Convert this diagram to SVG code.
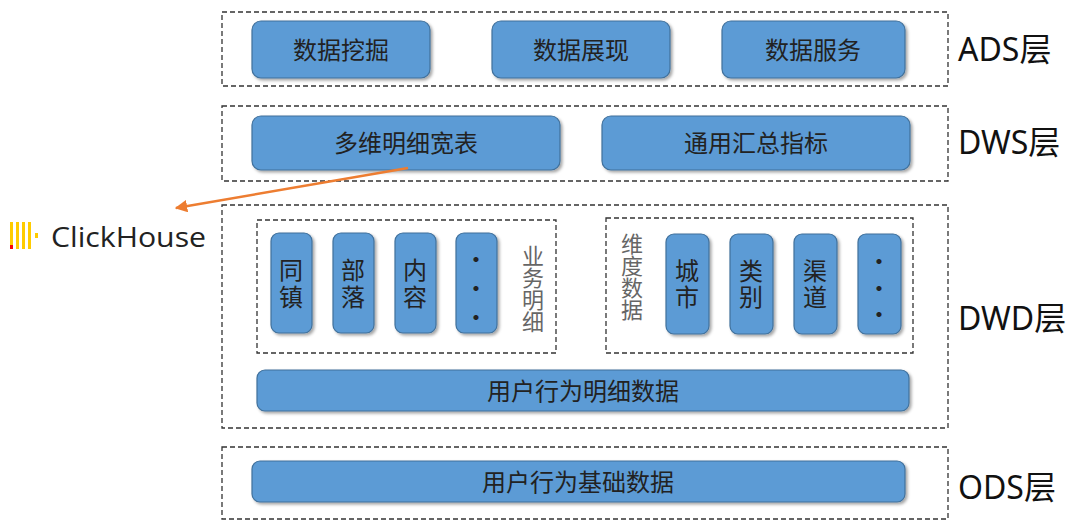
<svg xmlns="http://www.w3.org/2000/svg" width="1080" height="527" viewBox="0 0 1080 527">
<defs>
<filter id="sh" x="-20%" y="-20%" width="140%" height="160%"><feDropShadow dx="2" dy="2" stdDeviation="1.5" flood-color="#000" flood-opacity="0.35"/></filter>
<marker id="ah" viewBox="0 0 10 10" refX="9" refY="5" markerWidth="5" markerHeight="5" orient="auto"><path d="M0,0 L10,5 L0,10 z" fill="#ed7d31"/></marker>
</defs>
<style>
.layer{fill:none;stroke:#333;stroke-width:1.3;stroke-dasharray:5,3}
.b{fill:#5b9bd5;stroke:#41719c;stroke-width:1.2;filter:url(#sh)}
.t{font-family:"Noto Sans CJK SC","Liberation Sans",sans-serif;font-size:24px;fill:#222;text-anchor:middle}
.lab{font-family:"Noto Sans CJK SC","Liberation Sans",sans-serif;font-size:22px;fill:#666;writing-mode:vertical-rl;text-orientation:upright}
.ly{font-family:"Noto Sans","Noto Sans CJK SC",sans-serif;font-size:32px;fill:#111}
</style>
<rect width="1080" height="527" fill="#fff"/>
<g id="layers">
<rect class="layer" x="222" y="12" width="726" height="74"/>
<rect class="layer" x="222" y="106" width="726" height="75"/>
<rect class="layer" x="222" y="205" width="726" height="223"/>
<rect class="layer" x="222" y="447" width="726" height="72"/>
<rect class="layer" x="257" y="220" width="299" height="133"/>
<rect class="layer" x="606" y="218" width="307" height="135"/>
</g>
<g id="ads">
<rect class="b" x="252" y="21" width="178" height="57" rx="9"/><text class="t" x="341" y="59">数据挖掘</text>
<rect class="b" x="492" y="21" width="178" height="57" rx="9"/><text class="t" x="581" y="59">数据展现</text>
<rect class="b" x="722" y="21" width="183" height="57" rx="9"/><text class="t" x="813" y="59">数据服务</text>
<text class="ly" x="958" y="61">ADS层</text>
</g>
<g id="dws">
<rect class="b" x="252" y="116" width="308" height="54" rx="9"/><text class="t" x="406" y="152">多维明细宽表</text>
<rect class="b" x="602" y="116" width="308" height="54" rx="9"/><text class="t" x="756" y="152">通用汇总指标</text>
<text class="ly" x="958" y="154">DWS层</text>
</g>
<g id="dwd">
<rect class="b" x="271" y="233" width="41" height="100" rx="8"/><text class="t" x="291" y="279">同</text><text class="t" x="291" y="306">镇</text>
<rect class="b" x="333" y="233" width="41" height="100" rx="8"/><text class="t" x="353" y="279">部</text><text class="t" x="353" y="306">落</text>
<rect class="b" x="395" y="233" width="41" height="100" rx="8"/><text class="t" x="415" y="279">内</text><text class="t" x="415" y="306">容</text>
<rect class="b" x="456" y="233" width="41" height="100" rx="8"/><text class="t" x="476" y="268">·</text><text class="t" x="476" y="297">·</text><text class="t" x="476" y="326">·</text>
<text class="lab" x="533" y="245">业务明细</text>
<text class="lab" x="632" y="233">维度数据</text>
<rect class="b" x="666" y="234" width="43" height="100" rx="8"/><text class="t" x="687" y="280">城</text><text class="t" x="687" y="306">市</text>
<rect class="b" x="730" y="234" width="43" height="100" rx="8"/><text class="t" x="751" y="280">类</text><text class="t" x="751" y="306">别</text>
<rect class="b" x="794" y="234" width="43" height="100" rx="8"/><text class="t" x="815" y="280">渠</text><text class="t" x="815" y="306">道</text>
<rect class="b" x="858" y="234" width="43" height="100" rx="8"/><text class="t" x="879" y="270">·</text><text class="t" x="879" y="297">·</text><text class="t" x="879" y="323">·</text>
<rect class="b" x="257" y="370" width="652" height="41" rx="8"/><text class="t" x="583" y="400">用户行为明细数据</text>
<text class="ly" x="958" y="330">DWD层</text>
</g>
<g id="ods">
<rect class="b" x="252" y="461" width="653" height="41" rx="8"/><text class="t" x="578" y="491">用户行为基础数据</text>
<text class="ly" x="958" y="499">ODS层</text>
</g>
<g id="clickhouse">
<rect x="10" y="222" width="3" height="27" fill="#fc0"/><rect x="10" y="245" width="3" height="4" fill="#f00"/>
<rect x="16" y="222" width="3" height="27" fill="#fc0"/>
<rect x="22" y="222" width="3" height="27" fill="#fc0"/>
<rect x="28" y="222" width="3" height="27" fill="#fc0"/>
<rect x="35" y="233" width="3" height="5" fill="#fc0"/>
<text x="51" y="247" font-family="'Open Sans','Noto Sans',sans-serif" font-size="27" fill="#222" textLength="155" lengthAdjust="spacingAndGlyphs">ClickHouse</text>
</g>
<g id="connectors">
<line x1="408" y1="168" x2="176" y2="208" stroke="#ed7d31" stroke-width="2.5" marker-end="url(#ah)"/>
</g>
</svg>
